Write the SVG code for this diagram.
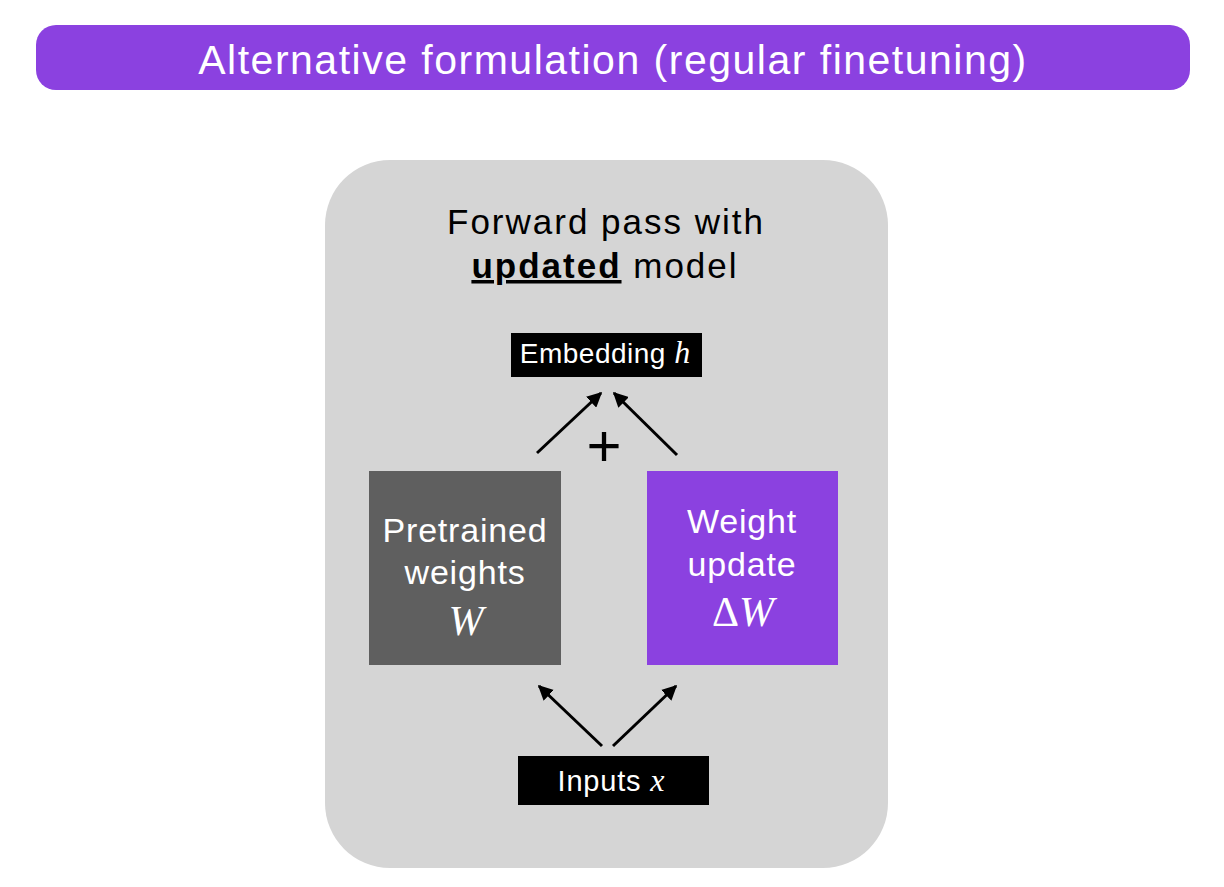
<svg xmlns="http://www.w3.org/2000/svg" width="1224" height="887" viewBox="0 0 1224 887">
<defs>
<style>
.sans{font-family:"Liberation Sans",Arial,sans-serif;}
.math{font-family:"Liberation Serif","Times New Roman",serif;font-style:italic;letter-spacing:0;}
.w{fill:#ffffff;}
.conn line{stroke:#000;stroke-width:3;marker-end:url(#ah);}
</style>
<marker id="ah" viewBox="0 0 10 10" refX="9" refY="5" markerWidth="5" markerHeight="5" orient="auto" markerUnits="strokeWidth">
<path d="M0,0 L10,5 L0,10 z" fill="#000"/>
</marker>
</defs>
<rect width="1224" height="887" fill="#ffffff"/>
<g id="title">
<rect x="36" y="25" width="1154" height="65" rx="20" fill="#8B41E0"/>
<text x="613" y="74" text-anchor="middle" class="sans w" font-size="41" letter-spacing="1.5">Alternative formulation (regular finetuning)</text>
</g>
<g id="panel">
<rect x="325" y="160" width="563" height="708" rx="65" fill="#D5D5D5"/>
<text x="606" y="234" text-anchor="middle" class="sans" font-size="35" letter-spacing="2" fill="#000">Forward pass with</text>
<text x="605" y="278" text-anchor="middle" class="sans" font-size="35" letter-spacing="2" fill="#000"><tspan font-weight="bold" text-decoration="underline">updated</tspan> model</text>
</g>
<g id="embedding">
<rect x="511" y="333" width="191" height="44" fill="#000"/>
<text x="605" y="363" text-anchor="middle" class="sans w" font-size="28" letter-spacing="0.5">Embedding <tspan class="math" font-size="32">h</tspan></text>
</g>
<g id="pretrained">
<rect x="369" y="471" width="192" height="194" fill="#5F5F5F"/>
<text x="465" y="542" text-anchor="middle" class="sans w" font-size="34" letter-spacing="0.8">Pretrained</text>
<text x="465" y="584" text-anchor="middle" class="sans w" font-size="34" letter-spacing="0.8">weights</text>
<text x="466" y="635" text-anchor="middle" class="math w" font-size="42">W</text>
</g>
<g id="update">
<rect x="647" y="471" width="191" height="194" fill="#8B41E0"/>
<text x="742" y="533" text-anchor="middle" class="sans w" font-size="34" letter-spacing="0.8">Weight</text>
<text x="742" y="576" text-anchor="middle" class="sans w" font-size="34" letter-spacing="0.8">update</text>
<text x="743" y="626" text-anchor="middle" class="w" font-size="42" font-family="Liberation Serif,serif">Δ<tspan class="math">W</tspan></text>
</g>
<g id="inputs">
<rect x="518" y="756" width="191" height="49" fill="#000"/>
<text x="611" y="791" text-anchor="middle" class="sans w" font-size="29" letter-spacing="0.8">Inputs <tspan class="math" font-size="32">x</tspan></text>
</g>
<g id="plus">
<text x="604" y="466" text-anchor="middle" class="sans" font-size="60" fill="#000">+</text>
</g>
<g id="connectors" class="conn">
<line x1="537" y1="453" x2="601" y2="393"/>
<line x1="677" y1="455" x2="614" y2="393"/>
<line x1="602" y1="746" x2="539" y2="686"/>
<line x1="613" y1="746" x2="676" y2="686"/>
</g>
</svg>
